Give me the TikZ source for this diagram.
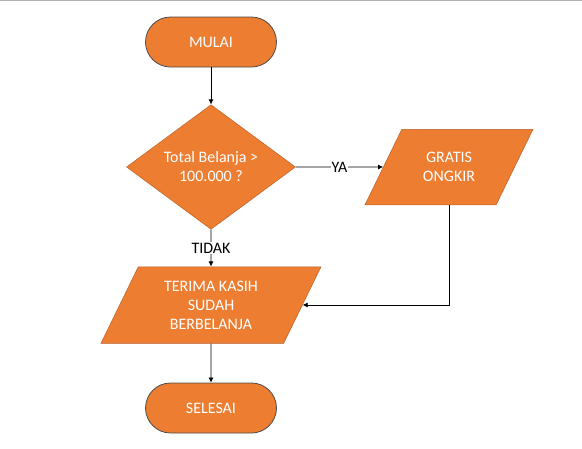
\documentclass[tikz,border=0pt]{standalone}
\usepackage{fontspec}
\setmainfont{Carlito}
\usetikzlibrary{positioning,shapes.geometric,arrows.meta}
\definecolor{oren}{HTML}{ED7D31}
\definecolor{orenline}{HTML}{B8612A}
\tikzset{
  terminal/.style={rectangle, rounded corners=25pt, fill=oren, draw=black!70, line width=0.8pt,
    minimum width=131pt, minimum height=50pt, text=white, font=\fontsize{16}{18}\selectfont},
  decision/.style={diamond, fill=oren, draw=orenline, line width=0.5pt, inner sep=0pt,
    minimum width=169pt, minimum height=116pt, text=white, align=center,
    font=\fontsize{16}{19}\selectfont},
  io/.style={trapezium, trapezium left angle=64, trapezium right angle=116,
    trapezium stretches body, fill=oren, draw=orenline, line width=0.5pt, inner xsep=0pt,
    minimum height=76pt, text=white, align=center, font=\fontsize{16}{19}\selectfont},
  arrow/.style={-{Latex[length=5pt,width=5pt]}, line width=0.7pt},
  lbl/.style={fill=white, inner sep=1pt, font=\fontsize{16}{18}\selectfont}
}
\begin{document}
\begin{tikzpicture}[x=1pt, y=1pt]
    \useasboundingbox (0,0) rectangle (582,-448);
    \draw[black!30, line width=2pt] (0,0) -- (582,0);
    \node[terminal] at (211,-42) (n1){MULAI};
    \node[decision, below of=n1, node distance=125pt] (n2){Total Belanja >\\100.000 ?};
    \node[io, right of=n2, node distance=238pt, minimum width=168pt, minimum height=75pt, inner ysep=23pt] (n3){GRATIS\\ONGKIR};
    \node[io, below of=n2, node distance=138pt, minimum width=220pt, inner ysep=14pt] (n4){TERIMA KASIH\\SUDAH\\BERBELANJA};
    \node[terminal, below of=n4, node distance=103pt] (n5){SELESAI};
    \draw[arrow] (n1) -- (n2);
    \draw[arrow] (n2.east) -- node[lbl]{YA} (n3.west);
    \draw[arrow] (n2.south) -- node[lbl]{TIDAK} (n4.north);
    \draw[arrow] (n3.south) |- (n4.east);
    \draw[arrow] (n4) -- (n5);
\end{tikzpicture}
\end{document}
